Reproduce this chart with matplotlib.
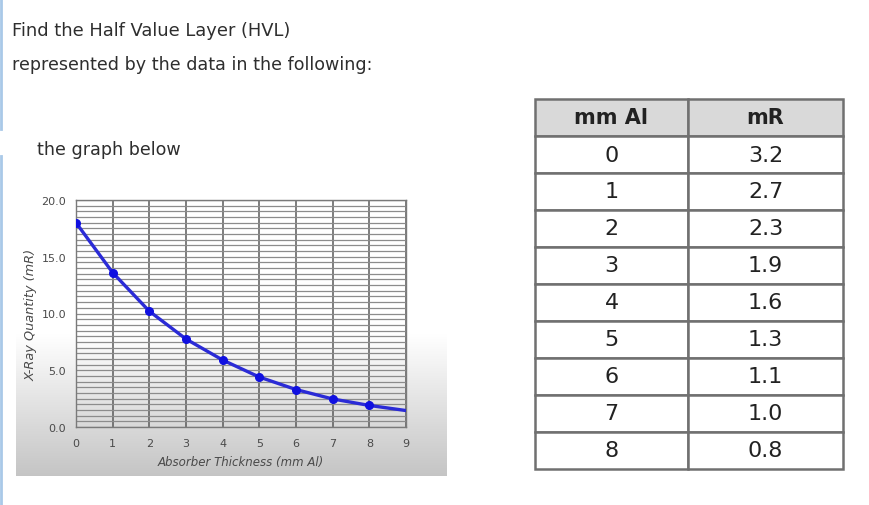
import matplotlib
matplotlib.use('Agg')
import matplotlib.pyplot as plt
import numpy as np

# ---- data ----
thickness = [0, 1, 2, 3, 4, 5, 6, 7, 8, 9]
quantity = [18.0, 13.6, 10.2, 7.75, 5.9, 4.4, 3.3, 2.47, 1.9, 1.45]
marker_idx = [0, 1, 2, 3, 4, 5, 6, 7, 8]
xticks = [0, 1, 2, 3, 4, 5, 6, 7, 8, 9]
yticks = [0.0, 5.0, 10.0, 15.0, 20.0]
table_header = ['mm Al', 'mR']
table_mm = ['0', '1', '2', '3', '4', '5', '6', '7', '8']
table_mr = ['3.2', '2.7', '2.3', '1.9', '1.6', '1.3', '1.1', '1.0', '0.8']

W, H = 869, 506
fig = plt.figure(figsize=(W / 100, H / 100), dpi=100)
fig.patch.set_facecolor('white')
FONT = 'DejaVu Sans'


def fx(px):
    return px / W


def fy(py):
    return 1 - py / H


# left light-blue rule
fig.add_artist(plt.Line2D([fx(1.2), fx(1.2)], [fy(0), fy(130)], color='#a9c9e8', lw=2))
fig.add_artist(plt.Line2D([fx(1.2), fx(1.2)], [fy(157), fy(506)], color='#a9c9e8', lw=2))

# gradient panel behind the chart
top, bot = 185, 477
bg = fig.add_axes([fx(16), fy(bot), fx(447 - 16), (bot - top) / H], zorder=0)
ys = np.arange(top, bot)
vals = np.where(ys < 335, 1.0, 1.0 - (ys - 335) / (bot - 335) * 0.23)
img = np.repeat(vals[:, None, None], 3, axis=2)
bg.imshow(img, aspect='auto', extent=[0, 1, 0, 1], interpolation='bilinear')
bg.axis('off')

# main chart
ax = fig.add_axes([fx(76), fy(428), fx(406 - 76), (428 - 201) / H], zorder=1)
ax.set_facecolor('none')
ax.set_xlim(0, 9)
ax.set_ylim(0, 20)
ax.set_xticks(xticks)
ax.set_xticklabels([str(v) for v in xticks])
ax.set_yticks(yticks)
ax.set_yticklabels(['%.1f' % v for v in yticks])
ax.set_yticks(np.arange(0, 20.01, 0.5), minor=True)
ax.tick_params(which='both', length=0)
ax.tick_params(axis='y', pad=7, labelsize=8, labelcolor='#4a4a4a')
ax.tick_params(axis='x', pad=8, labelsize=8, labelcolor='#4a4a4a')
ax.grid(axis='y', which='both', color='#8c8c8c', lw=0.9)
ax.grid(axis='x', which='major', color='#5a5a5a', lw=1.1)
for s in ax.spines.values():
    s.set_color('#7a7a7a')
    s.set_linewidth(1.0)
ax.plot(thickness, quantity, color='#2b2bd6', lw=2.4, zorder=3,
        marker='o', ms=5.5, mfc='#1010e0', mec='#1010e0', markevery=marker_idx)
ax.set_ylabel('X-Ray Quantity (mR)', fontsize=9.3, style='italic', color='#4a4a4a',
              family=FONT)
ax.yaxis.set_label_coords((38 - 76) / 330, 0.5)
ax.set_xlabel('Absorber Thickness (mm Al)', fontsize=8.5, style='italic', color='#4a4a4a',
              family=FONT)
ax.xaxis.set_label_coords(0.5, (428 - 456) / 227)

# texts
fig.text(fx(12), fy(31), 'Find the Half Value Layer (HVL)', fontsize=12.9, va='center',
         ha='left', color='#2e2e2e', family=FONT)
fig.text(fx(12), fy(65), 'represented by the data in the following:', fontsize=12.6,
         va='center', ha='left', color='#2e2e2e', family=FONT)
fig.text(fx(37), fy(150), 'the graph below', fontsize=12.6, va='center', ha='left',
         color='#2e2e2e', family=FONT)

# table
tax = fig.add_axes([fx(535), fy(470), fx(843 - 535), (470 - 100) / H], zorder=1)
tax.axis('off')
cells = [[a, b] for a, b in zip(table_mm, table_mr)]
tbl = tax.table(cellText=cells, colLabels=table_header, cellLoc='center',
                bbox=[0, 0, 1, 1], colWidths=[153, 155])
tbl.auto_set_font_size(False)
for (r, c), cell in tbl.get_celld().items():
    cell.set_edgecolor('#707070')
    cell.set_linewidth(1.8)
    txt = cell.get_text()
    txt.set_family(FONT)
    txt.set_color('#222222')
    if r == 0:
        cell.set_facecolor('#d9d9d9')
        txt.set_fontsize(15)
        txt.set_weight('bold')
    else:
        cell.set_facecolor('white')
        txt.set_fontsize(16)

fig.savefig('out.png', dpi=100)
